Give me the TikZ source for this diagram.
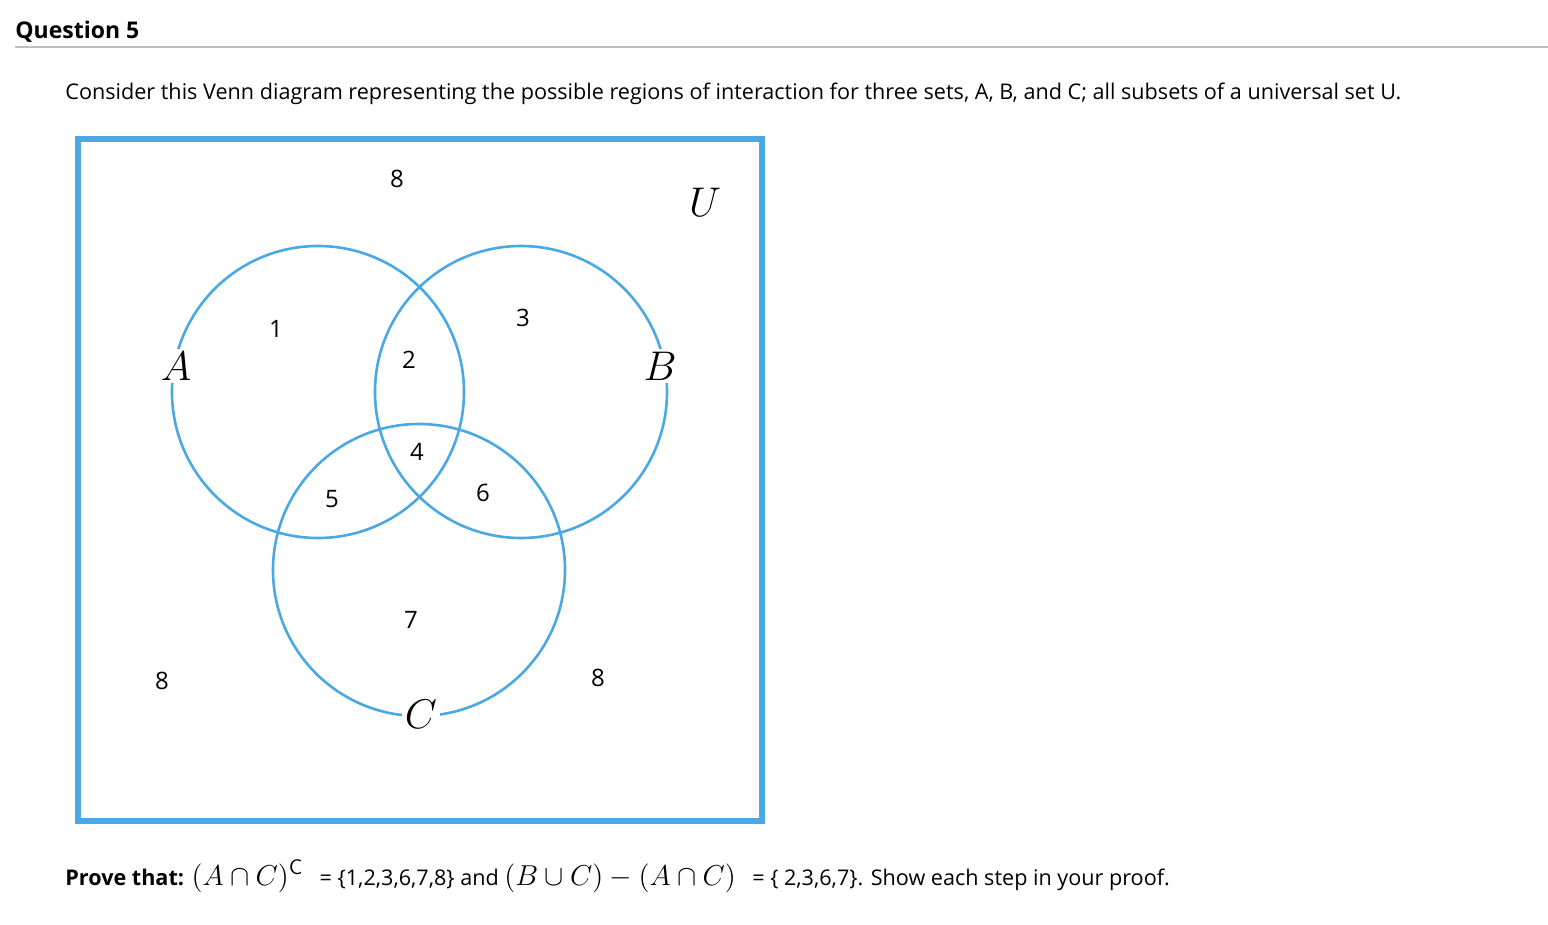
\documentclass[tikz,border=0pt]{standalone}
\usepackage{fontspec}
\setmainfont{Open Sans}
\begin{document}
\begin{tikzpicture}[x=0.5pt,y=-0.5pt,
  circ/.style={draw=venn,line width=1.3pt},
  num/.style={font=\fontsize{12}{14}\selectfont},
  setlab/.style={font=\fontsize{22}{24}\selectfont,fill=white,inner sep=1.5pt}]
\definecolor{venn}{RGB}{74,168,226}
\useasboundingbox[fill=white] (0,0) rectangle (1548,925);
\node[anchor=west,inner sep=0pt,font=\bfseries\fontsize{11.5}{13}\selectfont] (q) at (15,32) {Question 5};
\coordinate (r1) at (15,47); \coordinate (r2) at (1548,47);
\draw[gray!50,line width=0.6pt] (r1) -- (r2);
\node[anchor=west,inner sep=0pt,font=\fontsize{10.8}{13}\selectfont] (intro) at (65,94) {Consider this Venn diagram representing the possible regions of interaction for three sets, A, B, and C; all subsets of a universal set U.};
\node[draw=venn,line width=3pt,minimum width=342pt,minimum height=341pt,inner sep=0pt] (U) at (420,480) {};
\node[circ,circle,minimum size=146pt,inner sep=0pt] (A) at (318,392) {};
\node[circ,circle,minimum size=146pt,inner sep=0pt] (B) at (521,392) {};
\node[circ,circle,minimum size=146pt,inner sep=0pt] (C) at (419,570) {};
\node[setlab] (la) at (176,366) {$A$};
\node[setlab] (lb) at (660,366) {$B$};
\node[setlab] (lc) at (421,714) {$C$};
\node[setlab] (lu) at (705,202) {$U$};
\node[num] (n8a) at (397,179) {8};
\node[num] (n1) at (276,329) {1};
\node[num] (n3) at (523,318) {3};
\node[num] (n2) at (409,360) {2};
\node[num] (n4) at (417,452) {4};
\node[num] (n5) at (332,499) {5};
\node[num] (n6) at (483,493) {6};
\node[num] (n7) at (411,620) {7};
\node[num] (n8b) at (162,681) {8};
\node[num] (n8c) at (598,678) {8};
\node[anchor=west,inner sep=0pt,font=\fontsize{10.8}{13}\selectfont] (prove) at (65,876) {\textbf{Prove that:} {\fontsize{15}{17}\selectfont$(A\cap C)^{\mathsf{C}}$}\enspace\ = \{1,2,3,6,7,8\} and {\fontsize{15}{17}\selectfont$(B\cup C)-(A\cap C)$}\enspace\ = \{ 2,3,6,7\}. Show each step in your proof.};
\end{tikzpicture}
\end{document}
